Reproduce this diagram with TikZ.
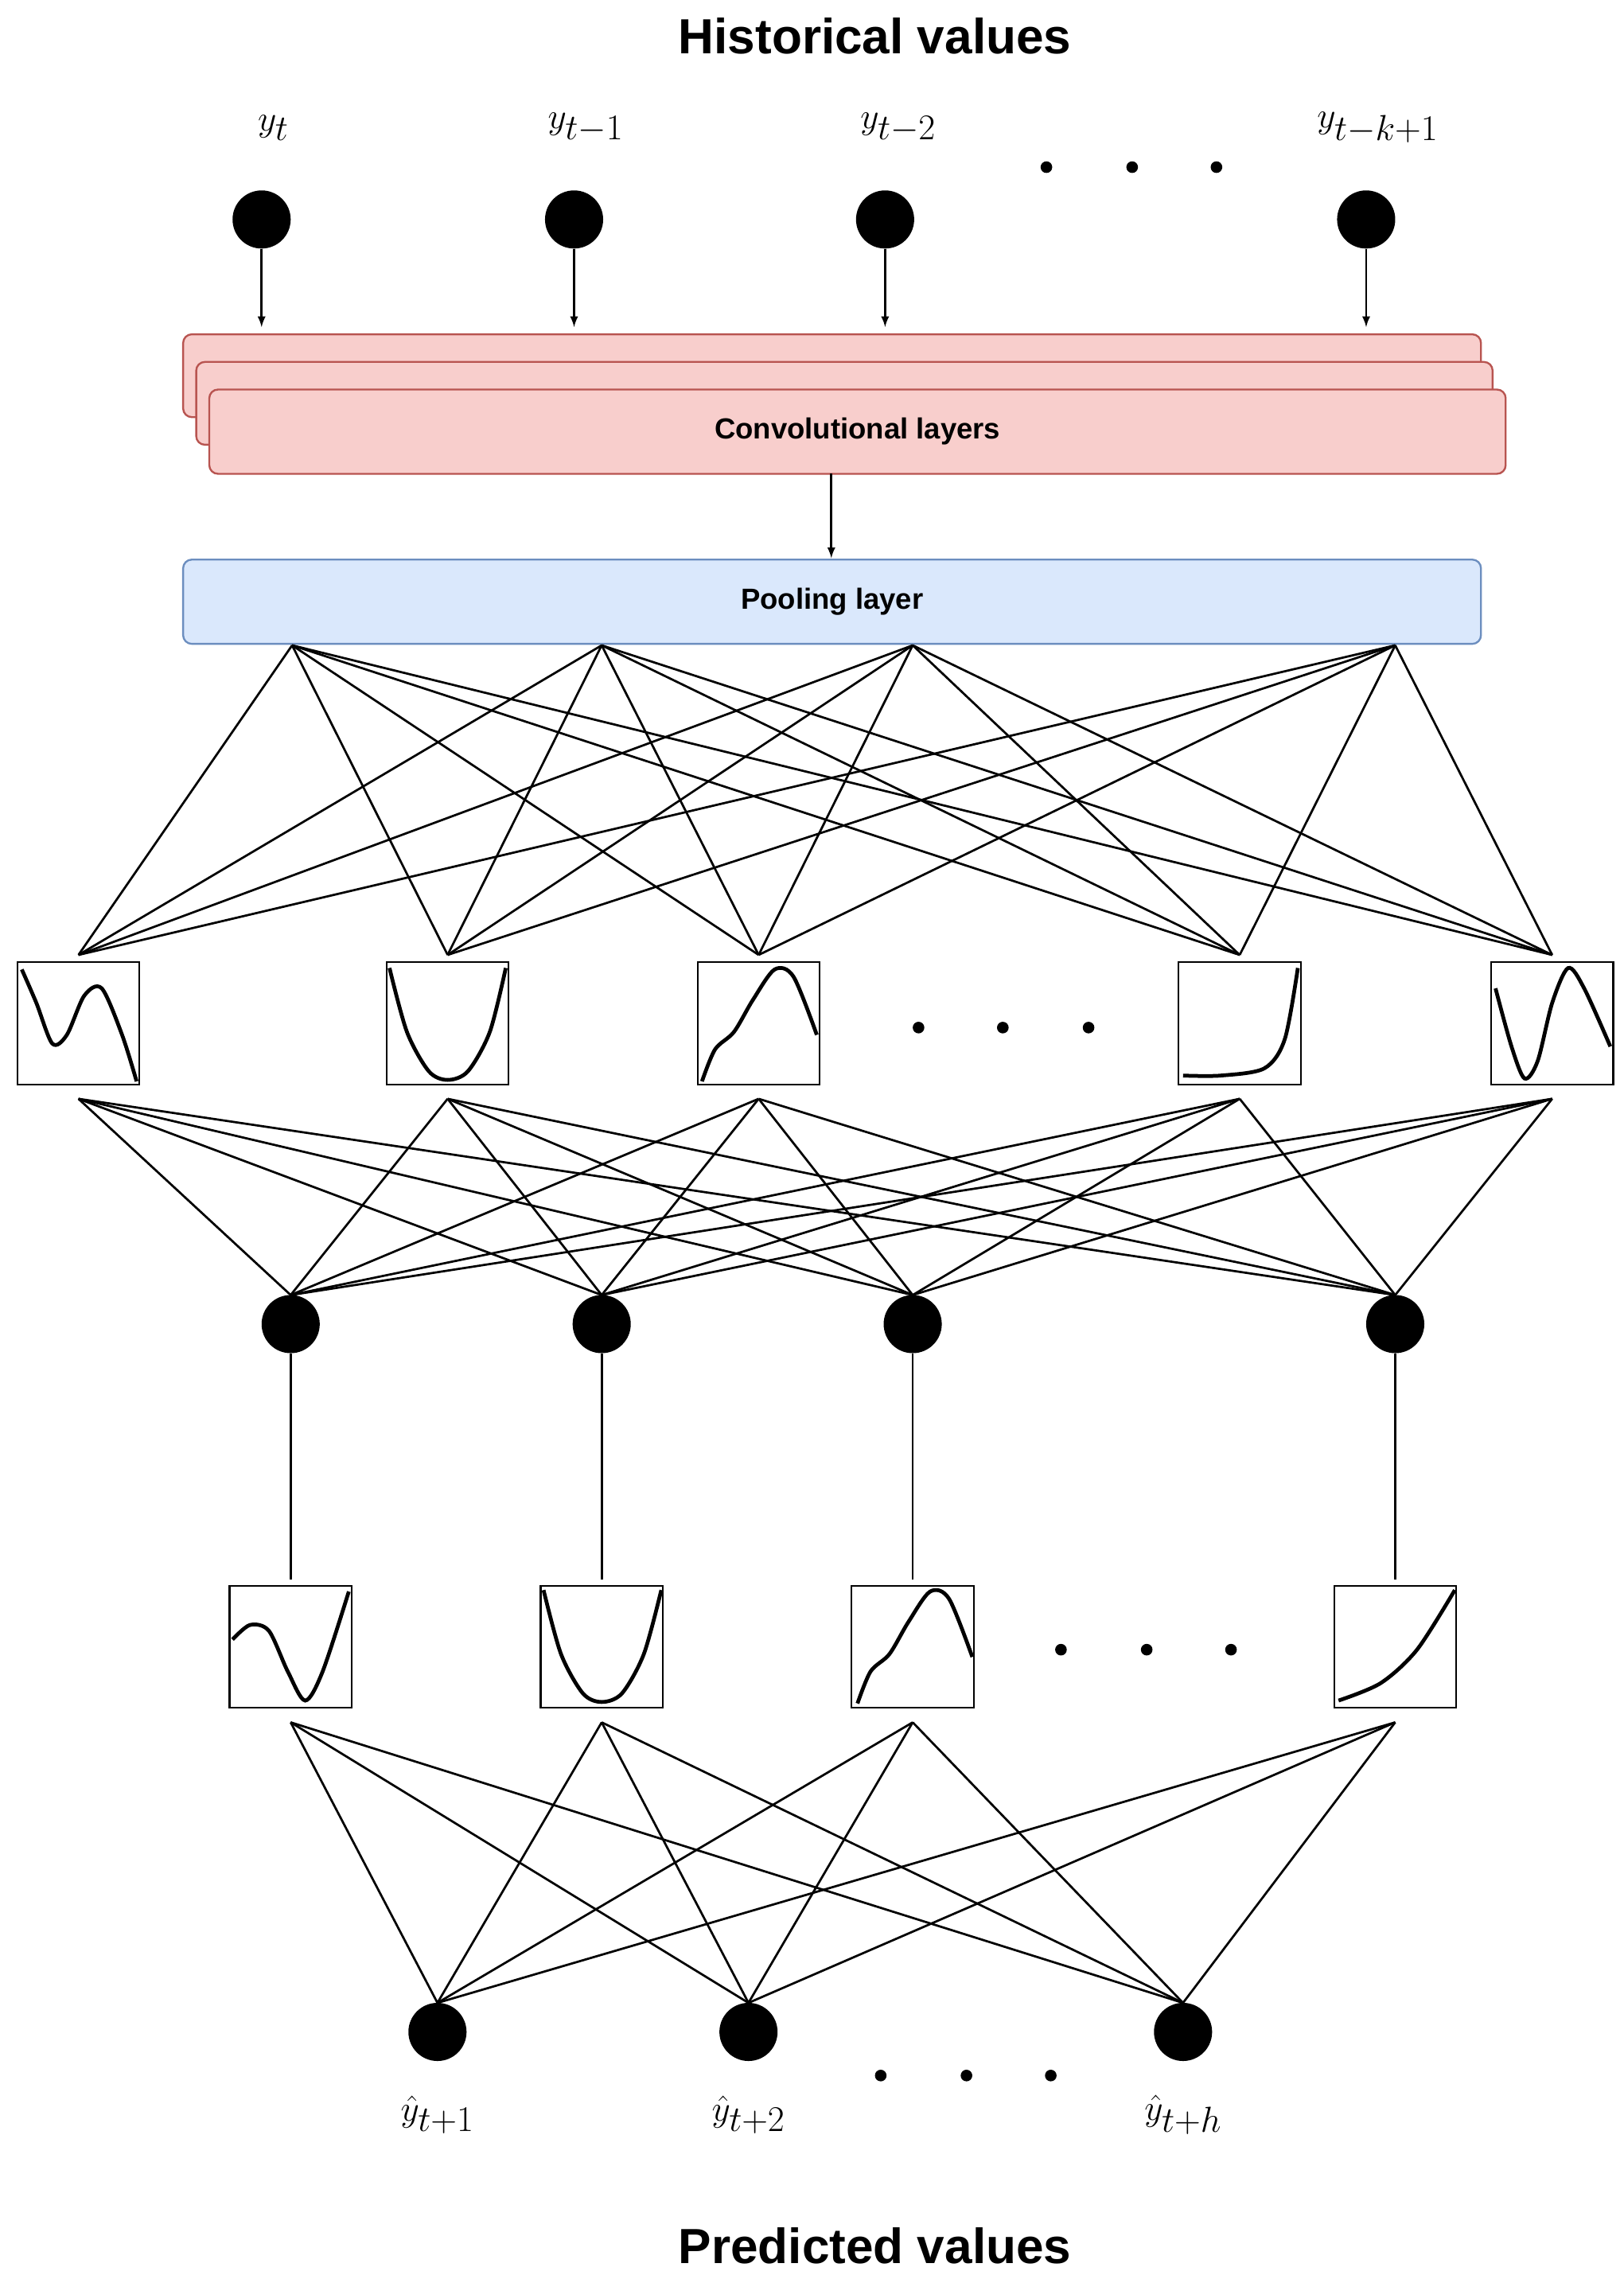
\documentclass[tikz,border=0pt]{standalone}
\usepackage{fontspec}
\setmainfont{Liberation Sans}
\begin{document}
\begin{tikzpicture}[x=1pt,y=-1pt,
  dot/.style={circle,fill=black,inner sep=0pt,minimum size=40pt},
  conv/.style={draw=red!45!brown!80,fill=red!20!pink!90!white,rounded corners=6pt,line width=1.3pt},
  ln/.style={line width=1.5pt},
  fbox/.style={draw=black,line width=1.2pt,minimum size=84pt,inner sep=0pt},
  title/.style={font=\bfseries\fontsize{34}{40}\selectfont},
  lab/.style={font=\fontsize{36}{40}\selectfont},
  bdot/.style={circle,fill=black,inner sep=0pt,minimum size=8pt}]
\useasboundingbox (0,0) rectangle (1117,1568);
\definecolor{cf}{HTML}{F8CECC}\definecolor{cd}{HTML}{B85450}
\definecolor{pf}{HTML}{DAE8FC}\definecolor{pd}{HTML}{6C8EBF}
\node[title] (t1) at (602,25) {Historical values};
\node[title] (t2) at (602,1545) {Predicted values};
% inputs
\foreach \n/\x/\l/\lx in {1/180/y_t/188, 2/395/y_{t-1}/403, 3/609/y_{t-2}/618, 4/940/y_{t-k+1}/948}{
  \node[dot] (i\n) at (\x,151) {};
  \node[lab] (il\n) at (\lx,88) {$\l$};
  \coordinate (ia\n) at (\x,225);
  \draw[ln,-latex] (i\n) -- (ia\n);
}
\foreach \x [count=\k] in {720,779,837}{\node[bdot] (d1\k) at (\x,115) {};}
% conv layers
\draw[draw=cd,fill=cf,rounded corners=6pt,line width=1.3pt] (126,230) rectangle (1019,287);
\draw[draw=cd,fill=cf,rounded corners=6pt,line width=1.3pt] (135,249) rectangle (1027,306);
\node[draw=cd,fill=cf,rounded corners=6pt,line width=1.3pt,minimum width=892pt,minimum height=58pt,font=\bfseries\fontsize{20}{24}\selectfont] (conv) at (590,297) {Convolutional layers};
\node[draw=pd,fill=pf,rounded corners=6pt,line width=1.3pt,minimum width=893pt,minimum height=58pt,font=\bfseries\fontsize{20}{24}\selectfont] (pool) at (572.5,414) {Pooling layer};
\coordinate (ca) at (572,326);\coordinate (pa) at (572,384);
\draw[ln,-latex] (ca) -- (pa);
\foreach \x [count=\k] in {201,414,628,960}{\coordinate (p\k) at (\x,444);}
% row 1 boxes
\foreach \x [count=\k] in {54,308,522,853,1068}{
  \node[fbox] (b\k) at (\x,704) {};
  \coordinate (bt\k) at (\x,657);\coordinate (bb\k) at (\x,756);
  \foreach \j in {1,...,4}{\draw[ln] (p\j) -- (bt\k);}
}
\foreach \x [count=\k] in {632,690,749}{\node[bdot] (d2\k) at (\x,707) {};}
% curves row1
\begin{scope}[line width=2.6pt]
\draw plot[smooth] coordinates {(15,667)(25,690)(36,718)(46,712)(58,685)(70,680)(84,712)(94,744)};
\draw plot[smooth] coordinates {(268,666)(280,710)(295,737)(308,743)(322,737)(337,710)(348,666)};
\draw plot[smooth] coordinates {(483,744)(492,722)(505,710)(518,688)(533,667)(546,672)(562,712)};
\draw plot[smooth] coordinates {(814,740)(840,740)(870,735)(884,715)(893,666)};
\draw plot[smooth] coordinates {(1029,680)(1040,720)(1049,742)(1058,730)(1068,690)(1079,666)(1090,680)(1108,720)};
\end{scope}
% hidden
\foreach \x [count=\k] in {200,414,628,960}{
  \node[dot] (h\k) at (\x,911) {};
  \coordinate (ht\k) at (\x,891);
  \foreach \j in {1,...,5}{\draw[ln] (bb\j) -- (ht\k);}
  \node[fbox] (c\k) at (\x,1133) {};
  \coordinate (ct\k) at (\x,1087);\coordinate (cb\k) at (\x,1185);
  \draw[ln] (h\k) -- (ct\k);
}
\foreach \x [count=\k] in {730,789,847}{\node[bdot] (d3\k) at (\x,1135) {};}
\begin{scope}[line width=2.6pt]
\draw plot[smooth] coordinates {(160,1128)(172,1118)(185,1122)(198,1150)(210,1170)(222,1150)(240,1095)};
\draw plot[smooth] coordinates {(374,1094)(386,1138)(401,1165)(414,1171)(428,1165)(443,1138)(455,1094)};
\draw plot[smooth] coordinates {(590,1172)(599,1150)(612,1138)(625,1116)(640,1095)(653,1100)(669,1140)};
\draw plot[smooth] coordinates {(921,1170)(950,1158)(975,1135)(1001,1094)};
\end{scope}
% outputs
\foreach \x/\l [count=\k] in {301/{t+1},515/{t+2},814/{t+h}}{
  \node[dot] (o\k) at (\x,1398) {};
  \coordinate (ot\k) at (\x,1378);
  \foreach \j in {1,...,4}{\draw[ln] (cb\j) -- (ot\k);}
  \node[lab] (ol\k) at (\x,1455) {$\hat{y}_{\l}$};
}
\foreach \x [count=\k] in {606,665,723}{\node[bdot] (d4\k) at (\x,1428) {};}
\end{tikzpicture}
\end{document}
